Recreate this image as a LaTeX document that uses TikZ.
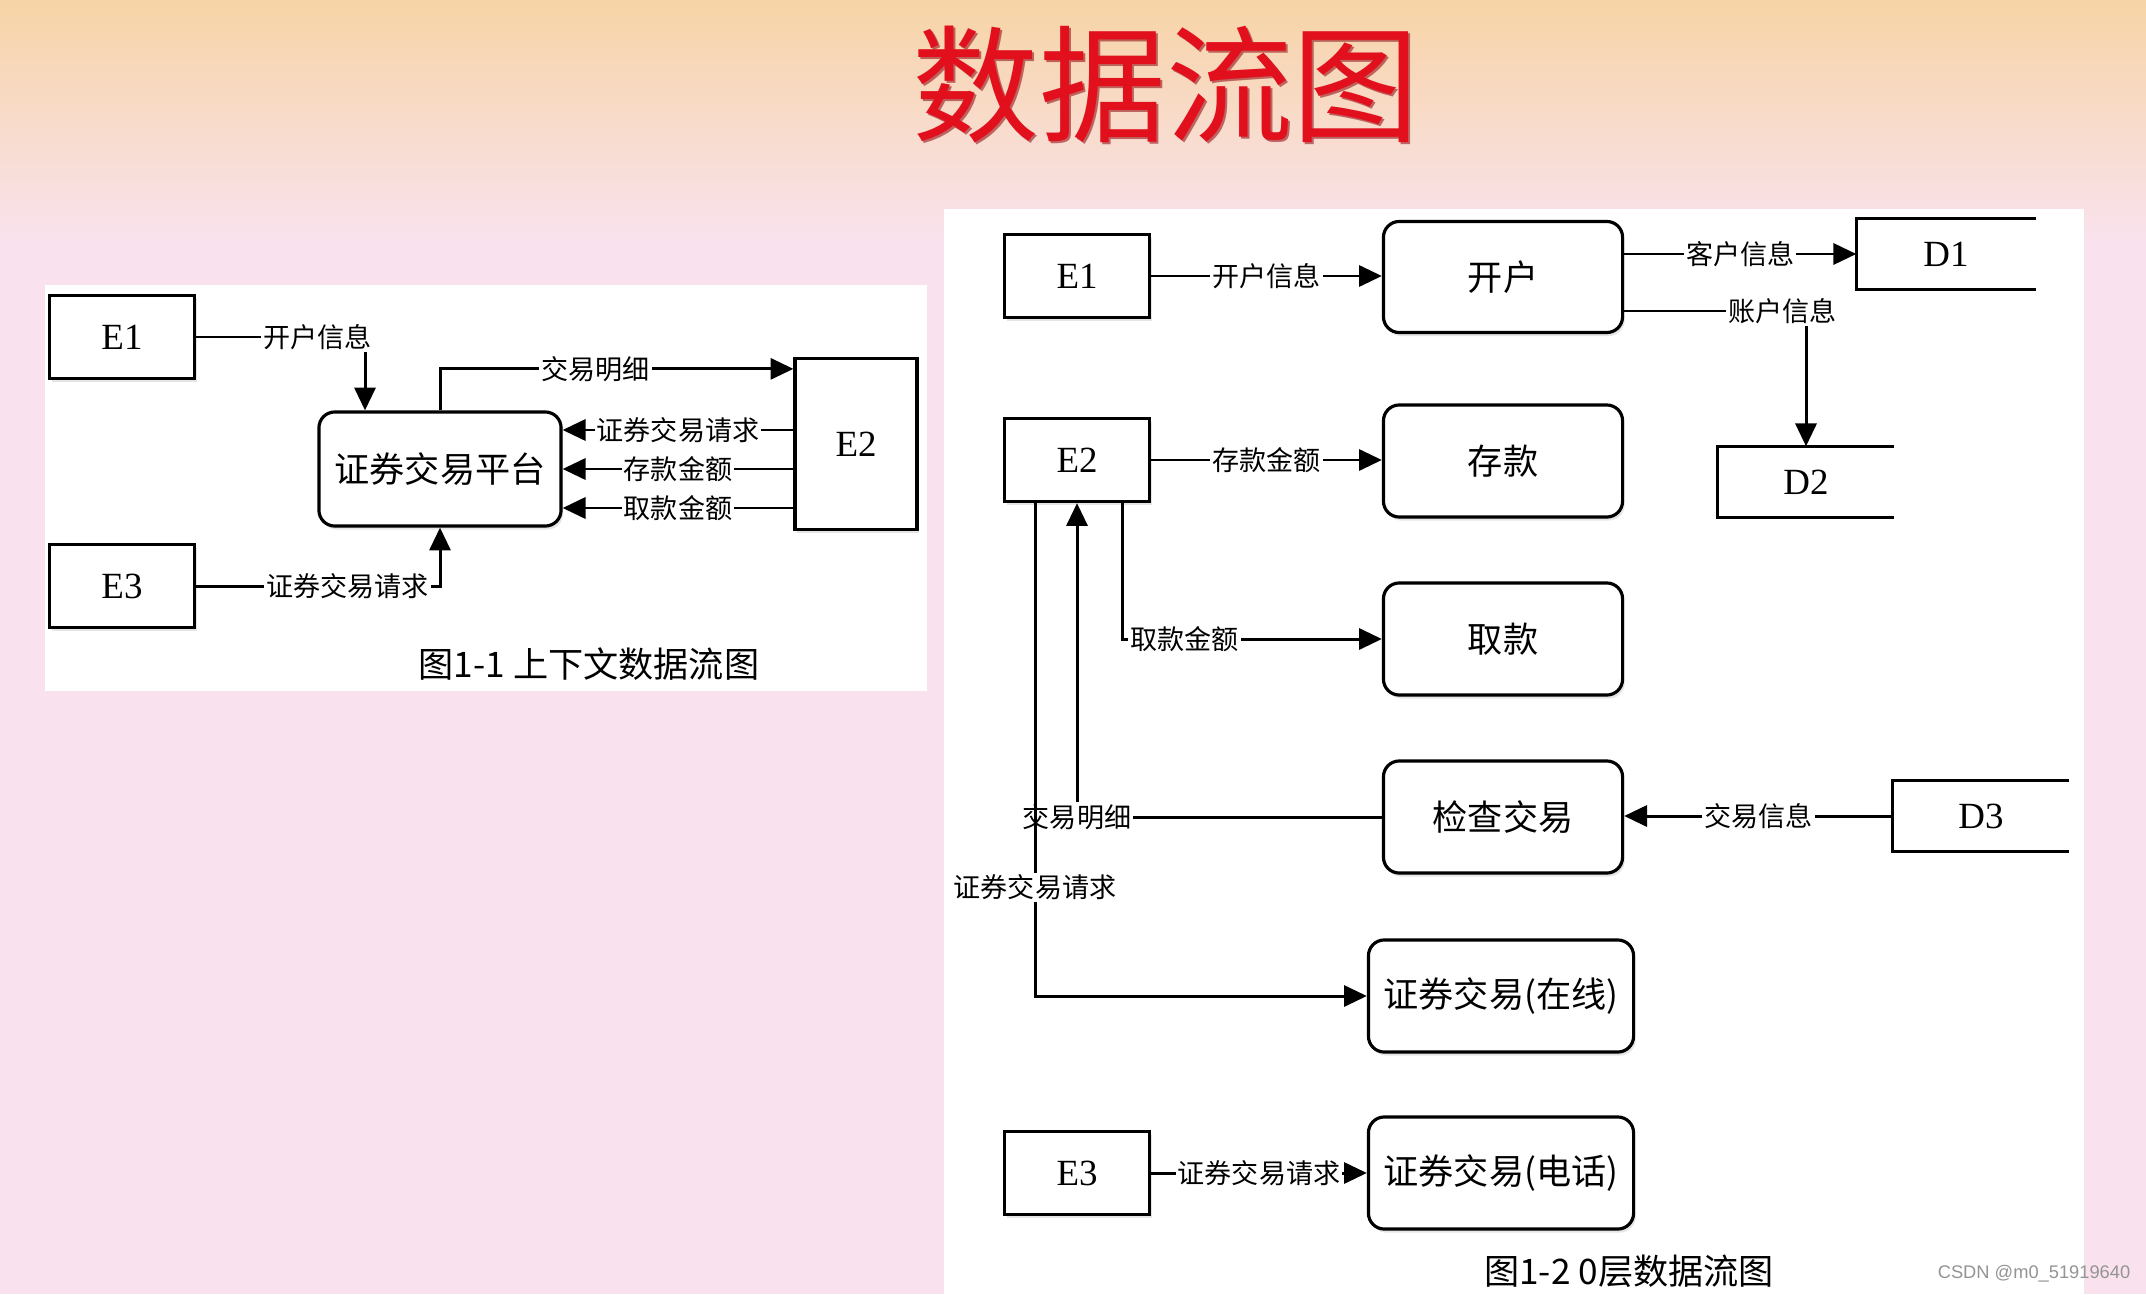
\documentclass[tikz,border=0pt]{standalone}
\usepackage{fontspec}
\setmainfont{Liberation Serif}
\newfontfamily\cjk{Noto Sans CJK SC}
\newfontfamily\markfont{Liberation Sans}
\usetikzlibrary{arrows.meta,calc,shadows}

\definecolor{bgtop}{RGB}{247,212,166}
\definecolor{bgpink}{RGB}{249,226,237}
\definecolor{titlered}{RGB}{226,16,28}
\definecolor{titleshade}{RGB}{150,20,28}

\begin{document}
\begin{tikzpicture}[x=0.01cm, y=-0.01cm,
    entity/.style={draw, line width=0.9pt, fill=white, inner sep=0pt,
      minimum width=1.45cm, minimum height=0.83cm,
      font=\fontsize{10.5}{12}\selectfont,
      drop shadow={opacity=0.2, shadow xshift=0.6pt, shadow yshift=-1pt}},
    process/.style={draw, line width=0.9pt, rounded corners=4.5pt, fill=white, inner sep=0pt,
      minimum width=2.39cm, minimum height=1.12cm,
      font=\cjk\fontsize{10}{12}\selectfont,
      drop shadow={opacity=0.2, shadow xshift=0.6pt, shadow yshift=-1pt}},
    store/.style={inner sep=0pt, minimum width=1.76cm, minimum height=0.70cm,
      font=\fontsize{10.5}{12}\selectfont},
    storeline/.style={line width=0.9pt},
    flow/.style={line width=0.85pt, -{Triangle[length=6.5pt,width=6pt]}},
    flowlabel/.style={fill=white, inner sep=0.6pt, font=\cjk\fontsize{7.7}{9}\selectfont},
    caption/.style={font=\cjk\fontsize{10}{12}\selectfont},
  ]

  \useasboundingbox (0,0) rectangle (2146,1294);

  % slide background
  \shade[top color=bgtop, bottom color=bgpink] (0,0) rectangle (2146,240);
  \fill[bgpink] (0,239) rectangle (2146,1294);
  \fill[white] (45,285) rectangle (927,691);
  \fill[white] (944,209) rectangle (2084,1294);

  % title
  \node[font=\cjk\fontsize{36}{40}\selectfont, text=titleshade, opacity=0.6] (titleshadow) at (1168,87) {数据流图};
  \node[font=\cjk\fontsize{36}{40}\selectfont, text=titlered] (title) at (1166,85) {数据流图};

  % ---------- context diagram ----------
  \node[entity] (E1) at (122,337) {E1};
  \node[entity] (E3) at (122,586) {E3};
  \node[entity, minimum width=1.22cm, minimum height=1.71cm] (E2) at (856,444) {E2};
  \node[process, minimum width=2.42cm, minimum height=1.14cm] (platform) at (440,469) {证券交易平台};

  \coordinate (openin) at ($(platform.north)+(-75,0)$);
  \coordinate (detailin) at ($(E2.north west)+(0,12)$);
  \coordinate (reqout) at ($(E2.west)+(0,-14)$);
  \coordinate (drawout) at ($(platform.east)+(0,39)$);

  \draw[flow] (E1.east) -| (openin) node[flowlabel, pos=0.36] (lopen) {开户信息};
  \draw[flow] (platform.north) |- (detailin) node[flowlabel, pos=0.72] (ldetail) {交易明细};
  \draw[flow] (reqout) -- (reqout -| platform.east) node[flowlabel, midway] (lreq) {证券交易请求};
  \draw[flow] (E2.west |- platform.east) -- (platform.east) node[flowlabel, midway] (lsave) {存款金额};
  \draw[flow] (E2.west |- drawout) -- (drawout) node[flowlabel, midway] (ldraw) {取款金额};
  \draw[flow] (E3.east) -| (platform.south) node[flowlabel, pos=0.31] (lreqthree) {证券交易请求};

  \node[caption] (capone) at (589,664) {图1-1 上下文数据流图};

  % ---------- level 0 diagram ----------
  \node[entity] (rE1) at (1077,276) {E1};
  \node[entity] (rE2) at (1077,460) {E2};
  \node[entity] (rE3) at (1077,1173) {E3};

  \node[process, minimum height=1.11cm] (open) at (1503,277) {开户};
  \node[process] (deposit) at (1503,461) {存款};
  \node[process] (withdraw) at (1503,639) {取款};
  \node[process] (check) at (1503,817) {检查交易};
  \node[process, minimum width=2.65cm] (online) at (1501,996) {证券交易(在线)};
  \node[process, minimum width=2.65cm] (phone) at (1501,1173) {证券交易(电话)};

  \node[store, minimum width=1.78cm] (D1) at (1946,254) {D1};
  \node[store, minimum width=1.75cm] (D2) at (1806,482) {D2};
  \node[store, minimum width=1.75cm] (D3) at (1981,816) {D3};
  \foreach \s in {D1,D2,D3}
    \draw[storeline] (\s.north east) -- (\s.north west) -- (\s.south west) -- (\s.south east);

  \coordinate (acctout) at ($(open.east)+(0,34)$);
  \coordinate (drawdown) at ($(rE2.south)+(45,0)$);
  \coordinate (reqdown) at ($(rE2.south)+(-42,0)$);

  \draw[flow] (rE1.east) -- (rE1.east -| open.west) node[flowlabel, midway] (ropen) {开户信息};
  \draw[flow] (D1.west -| open.east) -- (D1.west) node[flowlabel, midway] (rcust) {客户信息};
  \draw[flow] (acctout) -| (D2.north) node[flowlabel, pos=0.435] (racct) {账户信息};
  \draw[flow] (rE2.east) -- (rE2.east -| deposit.west) node[flowlabel, midway] (rsave) {存款金额};
  \draw[flow] (drawdown) |- (withdraw.west) node[flowlabel, pos=0.62] (rdraw) {取款金额};
  \draw[flow] (check.west) -| (rE2.south) node[flowlabel, pos=0.5] (rdetail) {交易明细};
  \draw[flow] (reqdown) |- (online.west) node[flowlabel, pos=0.39] (rreq) {证券交易请求};
  \draw[flow] (D3.west) -- (D3.west -| check.east) node[flowlabel, midway] (rinfo) {交易信息};
  \draw[flow] (rE3.east) -- (phone.west) node[flowlabel, midway] (rreqthree) {证券交易请求};

  \node[caption] (captwo) at (1629,1271) {图1-2 0层数据流图};

  % watermark
  \node[font=\markfont\fontsize{5.2}{6}\selectfont, text=black!42] (mark) at (2034,1274) {CSDN @m0\_51919640};

\end{tikzpicture}
\end{document}
